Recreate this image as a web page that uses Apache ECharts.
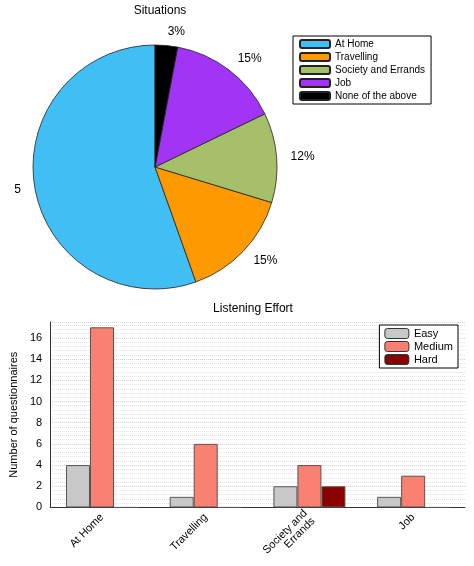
<!DOCTYPE html><html><head><meta charset="utf-8"><script src="https://cdn.jsdelivr.net/npm/echarts@6/dist/echarts.min.js"></script></head><body style="margin:0;background:#fff"><div id="c" style="width:474px;height:566px"></div><script>
const pieNames=['At Home','Travelling','Society and Errands','Job','None of the above'];
const pieValues=[56,15,12,15,3];
const pieColors=['#41bff5','#ff9900','#a5c068','#a235f5','#000000'];
const barCats=['At Home','Travelling','Society and\nErrands','Job'];
const easy=[4,1,2,1];
const medium=[17,6,4,3];
const hard=[0,0,2,0];
const yTicks=[0,2,4,6,8,10,12,14,16];
const ch=echarts.init(document.getElementById('c'));
const f='Liberation Sans, Arial, sans-serif';
ch.setOption({
 animation:false,textStyle:{fontFamily:f},
 title:[{text:'Situations',left:'center',left:155,top:0,textAlign:'center',textStyle:{fontSize:12,fontWeight:'normal',color:'#000'}},
        {text:'Listening Effort',left:248,top:298,textAlign:'center',textStyle:{fontSize:12,fontWeight:'normal',color:'#000'}}],
 legend:[{data:pieNames,left:293,top:36,orient:'vertical',itemWidth:30,itemHeight:8,itemGap:3,borderColor:'#000',borderWidth:1,padding:[3,6],backgroundColor:'#fff',textStyle:{fontSize:10,color:'#000'}},
   {data:['Easy','Medium','Hard'],right:16,top:325,orient:'vertical',itemWidth:24,itemHeight:10,itemGap:2,borderColor:'#000',borderWidth:1,padding:[3,5],backgroundColor:'#fff',textStyle:{fontSize:11,color:'#000'},itemStyle:{borderColor:'#333',borderWidth:1}}],
 grid:{left:36,right:9,top:322,bottom:50},
 xAxis:{type:'category',data:barCats,axisLine:{lineStyle:{color:'#333'}},axisTick:{show:false},axisLabel:{rotate:45,fontSize:11,color:'#000',interval:0},splitLine:{show:false}},
 yAxis:{type:'value',min:0,max:17.5,interval:2,axisLine:{show:true,lineStyle:{color:'#333'}},axisTick:{inside:true},axisLabel:{fontSize:11,color:'#000',customValues:yTicks},
   name:'Number of questionnaires',nameLocation:'middle',nameGap:24,nameTextStyle:{fontSize:11,color:'#000'},
   splitLine:{lineStyle:{color:'#ccc',type:'dotted'}},minorTick:{show:false,splitNumber:5},minorSplitLine:{show:true,lineStyle:{color:'#e0e0e0',type:'dotted'}}},
 series:[
  {type:'pie',center:[155,167],radius:122,startAngle:90,clockwise:false,label:{show:true,formatter:'{c}%',fontSize:12,color:'#000',distanceToLabelLine:0},labelLine:{show:true,length:14,length2:0,lineStyle:{opacity:0}},
   itemStyle:{borderColor:'#222',borderWidth:0.8},
   data:pieNames.map((n,i)=>({name:n,value:pieValues[i],itemStyle:{color:pieColors[i]}}))},
  {type:'bar',name:'Easy',data:easy,barWidth:24,barGap:'0%',itemStyle:{color:'#c8c8c8',borderColor:'#555',borderWidth:1}},
  {type:'bar',name:'Medium',data:medium,barWidth:24,itemStyle:{color:'#fa8072',borderColor:'#555',borderWidth:1}},
  {type:'bar',name:'Hard',data:hard,barWidth:24,itemStyle:{color:'#8b0000',borderColor:'#555',borderWidth:1}}
 ]
});
</script></body></html>
